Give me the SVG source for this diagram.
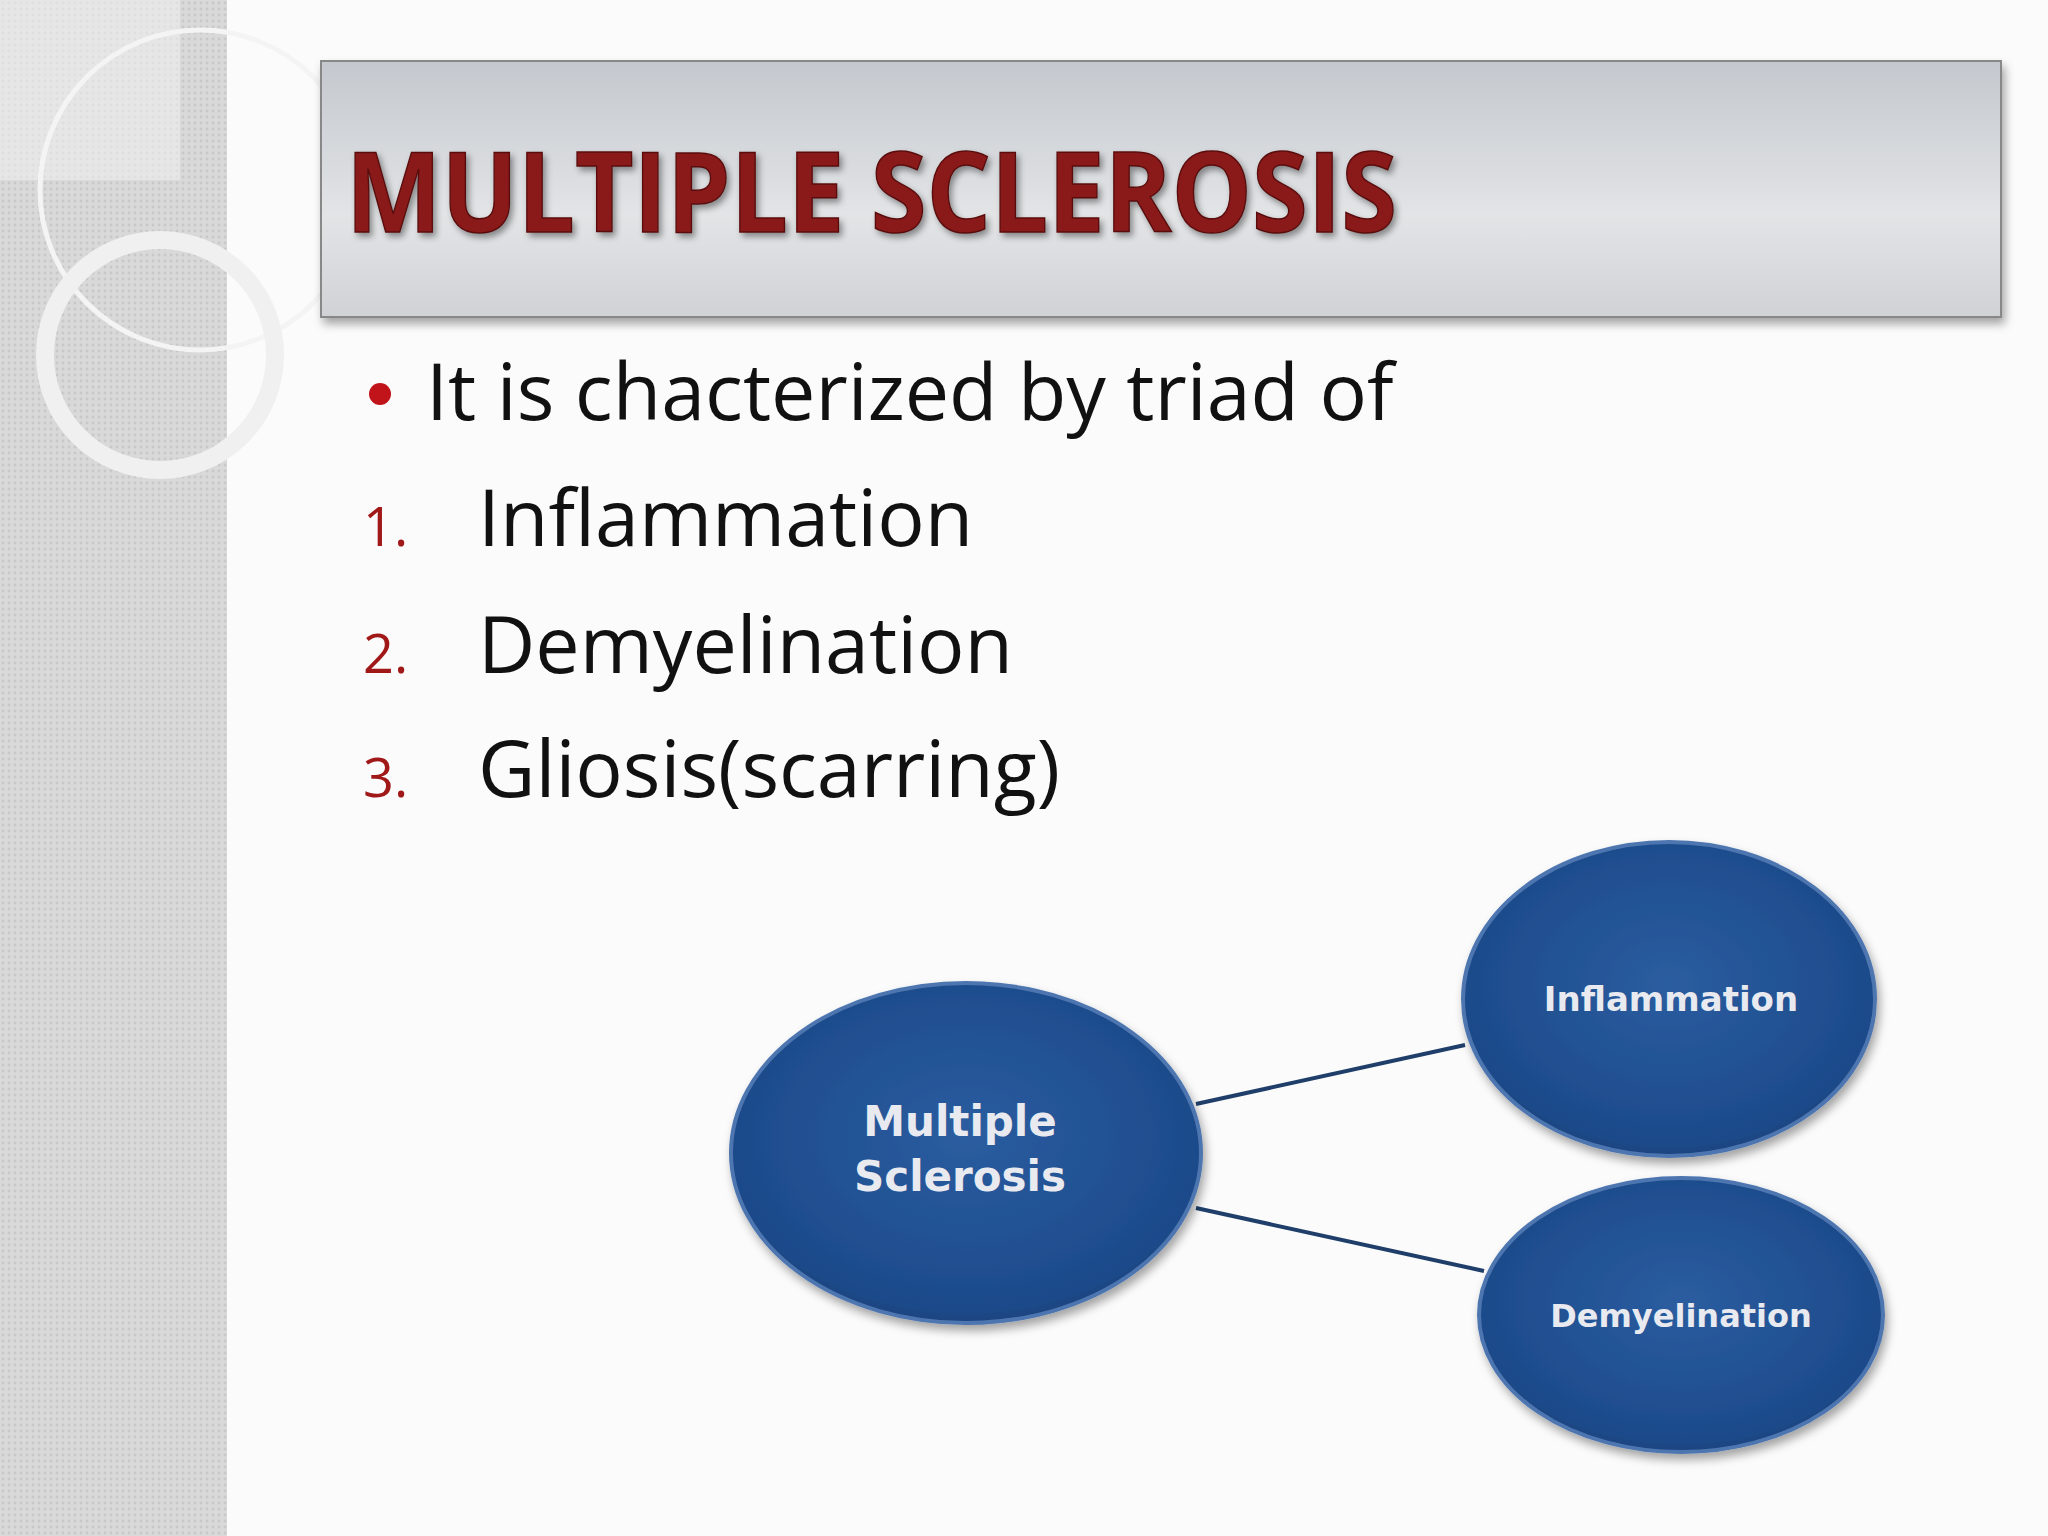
<svg xmlns="http://www.w3.org/2000/svg" width="2048" height="1536" viewBox="0 0 2048 1536">
<defs>
<pattern id="dots" width="6" height="6" patternUnits="userSpaceOnUse"><rect width="6" height="6" fill="#d9d9d9"/><circle cx="3" cy="3" r="1.4" fill="#c8c8c8"/></pattern>
<linearGradient id="tg" x1="0" y1="0" x2="0" y2="1"><stop offset="0" stop-color="#c4c8ce"/><stop offset="0.6" stop-color="#e2e4e6"/><stop offset="1" stop-color="#d0d2d6"/></linearGradient>
<radialGradient id="bg" cx="0.5" cy="0.45" r="0.6"><stop offset="0" stop-color="#2a5da0"/><stop offset="0.85" stop-color="#1d4a8a"/><stop offset="1" stop-color="#153a70"/></radialGradient>
<filter id="sh" x="-10%" y="-10%" width="120%" height="130%"><feDropShadow dx="3" dy="6" stdDeviation="5" flood-color="#000" flood-opacity="0.35"/></filter>
<style>
.main{font-family:"Open Sans","Noto Sans",sans-serif;font-size:79px;fill:#111}
.num{font-family:"Open Sans","Noto Sans",sans-serif;font-size:54px;fill:#a01818}
.node ellipse{fill:url(#bg);stroke:#4d76b0;stroke-width:4;filter:url(#sh)}
.node text{font-family:"DejaVu Sans",sans-serif;font-weight:bold;fill:#e8eaf0;text-anchor:middle}
.conn line{stroke:#1f3f6a;stroke-width:4}
</style>
</defs>
<rect width="2048" height="1536" fill="#fbfbfb"/>
<rect width="227" height="1536" fill="url(#dots)"/>
<rect x="0" y="0" width="180" height="180" fill="#eeeeee" opacity="0.6"/>
<circle cx="200" cy="190" r="160" fill="none" stroke="#f4f4f4" stroke-width="5"/>
<circle cx="160" cy="355" r="115" fill="none" stroke="#f0f0f0" stroke-width="18"/>
<rect x="321" y="61" width="1680" height="256" fill="url(#tg)" stroke="#888" stroke-width="2" filter="url(#sh)"/>
<text x="346" y="232" font-family="Open Sans, sans-serif" font-weight="bold" font-size="112" fill="#8a1a1a" stroke="#5a0c0c" stroke-width="1.5" textLength="1051" lengthAdjust="spacingAndGlyphs" style="filter:drop-shadow(3px 4px 3px rgba(0,0,0,0.4))">MULTIPLE SCLEROSIS</text>
<circle cx="380" cy="394" r="11" fill="#c0141a"/>
<text class="main" x="426" y="420">It is chacterized by triad of</text>
<text class="num" x="363" y="546">1.</text><text class="main" x="478" y="546">Inflammation</text>
<text class="num" x="363" y="673">2.</text><text class="main" x="478" y="673">Demyelination</text>
<text class="num" x="363" y="797">3.</text><text class="main" x="478" y="797">Gliosis(scarring)</text>
<g class="conn">
<line x1="1196" y1="1104" x2="1465" y2="1045"/>
<line x1="1196" y1="1208" x2="1484" y2="1271"/>
</g>
<g id="ms" class="node"><ellipse cx="966" cy="1153" rx="235" ry="170"/><text x="960" y="1136" font-size="42">Multiple</text><text x="960" y="1191" font-size="42">Sclerosis</text></g>
<g id="infl" class="node"><ellipse cx="1669" cy="999" rx="206" ry="157"/><text x="1671" y="1011" font-size="34">Inflammation</text></g>
<g id="demy" class="node"><ellipse cx="1681" cy="1315" rx="202" ry="137"/><text x="1681" y="1327" font-size="32">Demyelination</text></g>
</svg>
